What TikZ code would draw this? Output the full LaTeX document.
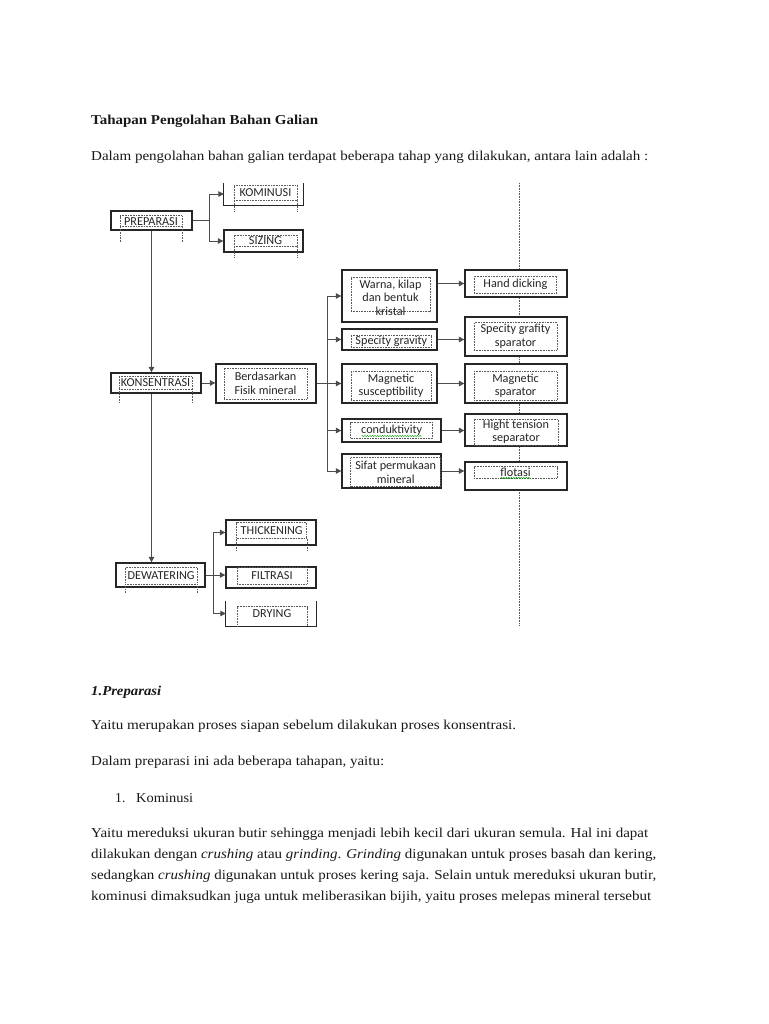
\documentclass[tikz,border=0pt]{standalone}
\usepackage{fontspec}
\setmainfont{Liberation Serif}
\newfontfamily\dfont{Carlito}
\usepackage{graphicx}
\usetikzlibrary{arrows.meta,decorations.pathmorphing}

\tikzset{
 box/.style={draw=black!85, line width=1.3pt, fill=white, inner sep=0pt},
 openbox/.style={draw=none, fill=white, inner sep=0pt},
 boxline/.style={draw=black!85, line width=1.3pt},
 frm/.style={draw=black!65, line width=0.5pt, dash pattern=on 0.7pt off 0.9pt, inner sep=0pt},
 frmline/.style={draw=black!65, line width=0.5pt, dash pattern=on 0.7pt off 0.9pt},
 lbl/.style={inner sep=0pt, align=center, font=\dfont\fontsize{12.2}{13.4}\selectfont, text=black!85},
 conn/.style={draw=black!70, line width=0.9pt},
 arr/.style={conn, -{Triangle[length=5.5pt,width=5.5pt]}},
 body/.style={anchor=base west, inner sep=0pt, font=\fontsize{13.6}{16}\selectfont, text=black!90},
 wavy/.style={draw=green!60!black, line width=0.5pt, decorate, decoration={snake, amplitude=0.6pt, segment length=2.5pt}},
}

% box from corners: name, x1, y1, x2, y2
\newcommand\boxat[5]{\node[box,minimum width={#4-#2},minimum height={#5-#3}] (#1) at ({(#2+#4)/2},{(#3+#5)/2}) {};}
\newcommand\openboxat[5]{\node[openbox,minimum width={#4-#2},minimum height={#5-#3}] (#1) at ({(#2+#4)/2},{(#3+#5)/2}) {};
  \draw[boxline] (#1.north west) -- (#1.south west) -- (#1.south east) -- (#1.north east);}
% empty frame: name, x1, y1, x2, y2
\newcommand\frmonly[5]{\node[frm,minimum width={#4-#2},minimum height={#5-#3}] (#1) at ({(#2+#4)/2},{(#3+#5)/2}) {};}
% frame with label: name, x1, y1, x2, y2, text
\newcommand\frmat[6]{\frmonly{#1}{#2}{#3}{#4}{#5}
  \node[lbl] (#1t) at (#1.center) {#6};}
\newcommand\tline[5]{\node[body] (#1) at (#2,#3) {\resizebox{#4pt}{\height}{#5}};}

\begin{document}
\begin{tikzpicture}[x=1pt,y=-1pt]
\useasboundingbox[fill=white] (0,0) rectangle (768,1024);

% ---------- text above ----------
\tline{title}{91}{125}{227}{\bfseries Tahapan Pengolahan Bahan Galian}
\tline{intro}{91}{160.5}{557}{Dalam pengolahan bahan galian terdapat beberapa tahap yang dilakukan, antara lain adalah :}

% ---------- dotted guide line ----------
\coordinate (vt) at (519,183);
\coordinate (vb) at (519,626);
\draw[frmline] (vt) -- (vb);

% ---------- boxes ----------
\boxat{prep}{111}{211}{192}{230}
\openboxat{kom}{224}{183}{303}{205}
\boxat{siz}{224}{230}{303}{252}
\boxat{kons}{111}{373}{201}{393}
\boxat{berd}{216}{364}{316}{403}
\boxat{warna}{342}{270}{437}{322}
\boxat{sgrav}{342}{329}{437}{350}
\boxat{magsus}{342}{364}{437}{403}
\boxat{cond}{342}{419}{441}{442}
\boxat{sifat}{342}{454}{441}{488}
\boxat{hand}{465}{270}{567}{297}
\boxat{sgs}{465}{317}{567}{356}
\boxat{magsep}{465}{364}{567}{403}
\boxat{hts}{465}{414}{567}{446}
\boxat{flot}{465}{462}{567}{490}
\boxat{dew}{116}{563}{205}{587}
\boxat{thick}{226}{520}{316}{545}
\boxat{filt}{226}{567}{316}{588}
\openboxat{dry}{226}{601}{316}{626}

% ---------- dotted text frames and labels ----------
\frmat{prepf}{120}{215.7}{182}{226.7}{PREPARASI}
\frmat{komf}{234}{185}{297}{200.7}{KOMINUSI}
\frmat{sizf}{234}{235}{297}{246.7}{SIZING}
\frmat{konsf}{119}{376}{192}{389}{KONSENTRASI}
\frmat{berdf}{224}{368}{307}{399}{Berdasarkan\\Fisik mineral}
\frmonly{warnaf}{351}{277}{430}{311.7}
\node[lbl] (warnaft) at (390.5,297.5) {Warna, kilap\\dan bentuk\\kristal};
\frmat{sgravf}{351}{335}{431.7}{347}{Specity gravity}
\frmat{magsusf}{351}{371.7}{431}{400}{Magnetic\\susceptibility}
\frmat{handf}{474}{276}{556.7}{293}{Hand dicking}
\frmat{sgsf}{474}{322.7}{557}{350}{Specity grafity\\sparator}
\frmat{magsepf}{474}{371.7}{557}{400}{Magnetic\\sparator}
\frmat{condf}{350.7}{422.7}{432.7}{438.3}{conduktivity}
\frmat{htsf}{474}{419}{558}{445}{Hight tension\\separator}
\frmat{sifatf}{350.7}{457.7}{440.7}{486.7}{Sifat permukaan\\mineral}
\frmat{flotf}{474}{466.7}{557}{478.3}{flotasi}
\frmat{dewf}{125}{567.3}{197.3}{584}{DEWATERING}
\frmat{thickf}{236.7}{522.7}{306.7}{538.3}{THICKENING}
\frmat{filtf}{237}{567.7}{307}{584}{FILTRASI}
\node[inner sep=0pt,minimum width=70pt,minimum height=19.3pt] (dryf) at (272,616.35) {};
\draw[frmline] (dryf.south west) -- (dryf.north west) -- (dryf.north east) -- (dryf.south east);
\node[lbl] (dryft) at (272,614) {DRYING};

% dotted extensions below frames
\draw[frmline] (prepf.south west) -- ++(0,15);
\draw[frmline] (prepf.south east) -- ++(0,15);
\draw[frmline] (komf.south west) -- ++(0,11);
\draw[frmline] (komf.south east) -- ++(0,11);
\draw[frmline] (sizf.south west) -- ++(0,10);
\draw[frmline] (sizf.south east) -- ++(0,10);
\draw[frmline] (konsf.south west) -- ++(0,13);
\draw[frmline] (konsf.south east) -- ++(0,13);
\draw[frmline] (thickf.south west) -- ++(0,12);
\draw[frmline] (thickf.south east) -- ++(0,12);
\draw[frmline] (dewf.south west) -- ++(0,9);
\draw[frmline] (dewf.south east) -- ++(0,9);

% spell-check underlines
\draw[wavy] ([xshift=-30pt,yshift=-5.5pt]condf.center) -- ++(60,0);
\draw[wavy] ([xshift=-15pt,yshift=-5.5pt]flotf.center) -- ++(30,0);

% ---------- connectors ----------
\coordinate (f1) at (209,220.5);
\draw[conn] (prep.east) -- (f1);
\draw[arr] (f1) |- (kom.west);
\draw[arr] (f1) |- (siz.west);
\draw[arr] (prep.south) -- (prep.south |- kons.north);

\draw[arr] (kons.east) -- (kons.east -| berd.west);
\coordinate (t1) at (327.5,383.5);
\draw[conn] (berd.east) -- (t1);
\draw[arr] (t1) |- (warna.west);
\draw[arr] (t1) |- (sgrav.west);
\draw[arr] (t1) |- (magsus.west);
\draw[arr] (t1) |- (cond.west);
\draw[arr] (t1) |- (sifat.west);

\draw[arr] (warna.east |- hand.west) -- (hand.west);
\draw[arr] (sgrav.east) -- (sgrav.east -| sgs.west);
\draw[arr] (magsus.east) -- (magsep.west);
\draw[arr] (cond.east) -- (cond.east -| hts.west);
\draw[arr] (sifat.east) -- (sifat.east -| flot.west);

\draw[arr] (kons.south -| prep.south) -- (dew.north -| prep.south);
\coordinate (f2) at (213.5,575);
\draw[conn] (dew.east) -- (f2);
\draw[arr] (f2) |- (thick.west);
\draw[arr] (f2) -- (f2 -| filt.west);
\draw[arr] (f2) |- (dry.west);

% ---------- text below ----------
\tline{sec}{91}{695}{70}{\bfseries\itshape 1.Preparasi}
\tline{p1}{91}{729}{425}{Yaitu merupakan proses siapan sebelum dilakukan proses konsentrasi.}
\tline{p2}{91}{765}{293}{Dalam preparasi ini ada beberapa tahapan, yaitu:}
\node[body] (num) at (115,802) {1.};
\tline{numt}{136}{802}{57}{Kominusi}
\tline{l1}{91}{837}{557}{Yaitu mereduksi ukuran butir sehingga menjadi lebih kecil dari ukuran semula. Hal ini dapat}
\tline{l2}{91}{858}{565}{dilakukan dengan \textit{crushing} atau \textit{grinding}. \textit{Grinding} digunakan untuk proses basah dan kering,}
\tline{l3}{91}{879}{565}{sedangkan \textit{crushing} digunakan untuk proses kering saja. Selain untuk mereduksi ukuran butir,}
\tline{l4}{91}{900}{560}{kominusi dimaksudkan juga untuk meliberasikan bijih, yaitu proses melepas mineral tersebut}
\end{tikzpicture}
\end{document}
